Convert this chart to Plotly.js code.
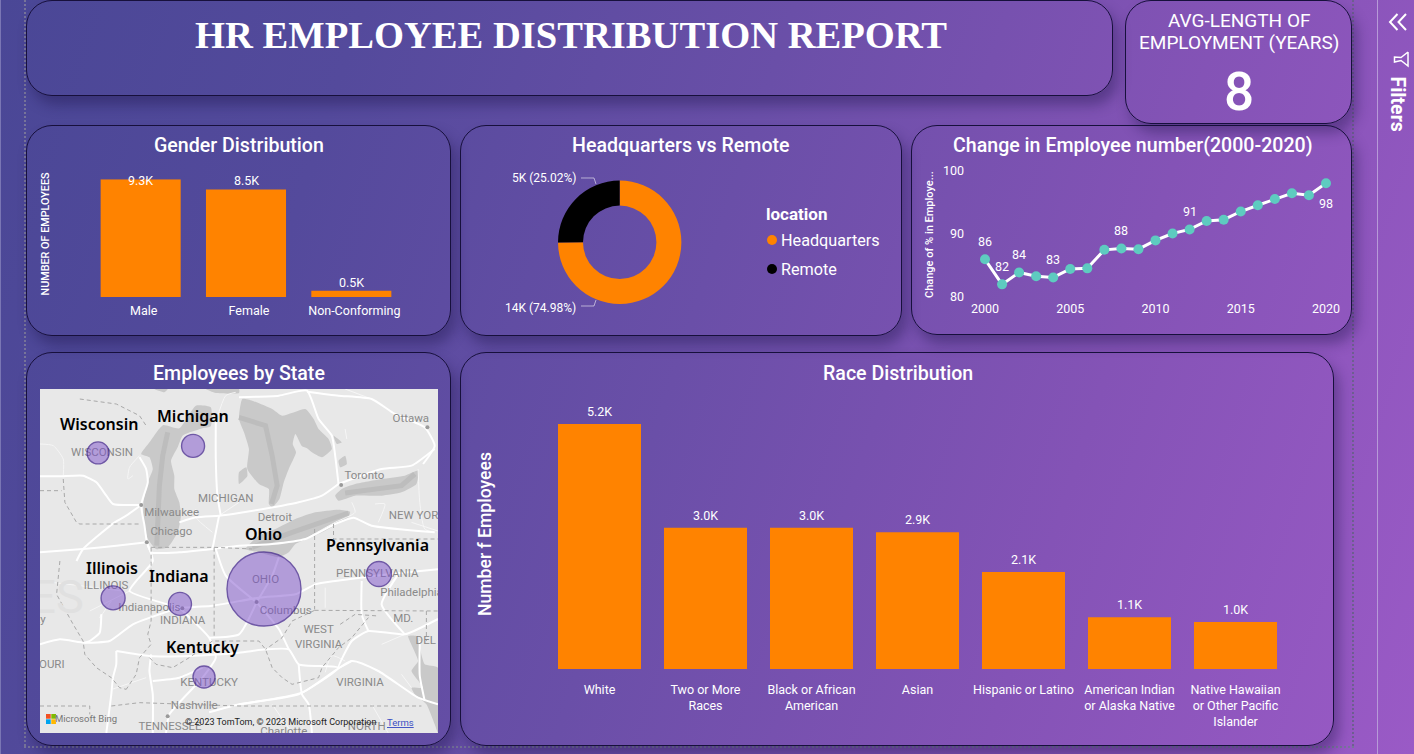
<!DOCTYPE html>
<html><head><meta charset="utf-8">
<script src="https://cdn.plot.ly/plotly-3.0.1.min.js"></script>
<style>
html,body{margin:0;padding:0;width:1414px;height:754px;overflow:hidden;
background:linear-gradient(108deg,#4a4796 0%,#544a9c 22%,#6a4fa8 48%,#8453b6 74%,#9a5ac6 100%);}
.p{position:absolute;box-sizing:border-box;border:1px solid #17103c;border-radius:26px;box-shadow:5px 9px 13px rgba(25,18,70,.38);}
.d{position:absolute;}
#chart{position:absolute;left:0;top:0;width:1414px;height:754px;}
</style></head><body>
<div class="d" style="left:0;top:0;width:1px;height:754px;background:#7a76b4"></div>
<div class="d" style="left:24px;top:0;height:746px;border-left:2px dotted #77749a"></div>
<div class="d" style="left:1352px;top:0;height:746px;border-left:2px dotted #6e5e90"></div>
<div class="d" style="left:24px;top:746px;width:1330px;border-top:2px dotted #77749a"></div>
<div class="d" style="left:1377px;top:0;width:1px;height:754px;background:#b79ad8"></div>
<div class="p" style="left:26px;top:0;width:1087px;height:96px"></div>
<div class="p" style="left:1125px;top:0;width:227px;height:124px"></div>
<div class="p" style="left:26px;top:125px;width:425px;height:211px"></div>
<div class="p" style="left:460px;top:125px;width:442px;height:211px"></div>
<div class="p" style="left:911px;top:125px;width:441px;height:210px"></div>
<div class="p" style="left:26px;top:352px;width:425px;height:394px"></div>
<div class="p" style="left:460px;top:352px;width:874px;height:394px"></div>
<div id="chart"></div>
<script>
// ---------- data ----------
const genderCats = ["Male","Female","Non-Conforming"];
const genderVals = [9300,8500,500];
const genderLabels = ["9.3K","8.5K","0.5K"];

const locationCats = ["Headquarters","Remote"];
const locationVals = [13721,4579];
const locationLabels = ["14K (74.98%)","5K (25.02%)"];

const years = [2000,2001,2002,2003,2004,2005,2006,2007,2008,2009,2010,2011,2012,2013,2014,2015,2016,2017,2018,2019,2020];
const changePct = [85.9,81.9,83.8,83.2,83.0,84.35,84.45,87.4,87.6,87.5,88.9,90.0,90.65,92.0,92.2,93.5,94.5,95.5,96.4,96.1,98.0];
const labelledYears = [2000,2001,2002,2004,2008,2012,2020];

const raceCats = ["White","Two or More<br>Races","Black or African<br>American","Asian","Hispanic or Latino","American Indian<br>or Alaska Native","Native Hawaiian<br>or Other Pacific<br>Islander"];
const raceVals = [5200,3000,3000,2900,2060,1100,1000];
const raceLabels = ["5.2K","3.0K","3.0K","2.9K","2.1K","1.1K","1.0K"];

const states = ["Wisconsin","Michigan","Ohio","Pennsylvania","Illinois","Indiana","Kentucky"];
const stateLon = [-89.72,-85.73,-82.75,-77.92,-89.09,-86.28,-85.27];
const stateLat = [44.69,44.91,40.41,40.88,40.13,39.94,37.64];
const stateEmployees = [1237,1352,14000,1598,1473,1352,1237];

// ---------- backdrop of the map ----------
const lakes = [
 [[305,195],[330,160],[355,125],[372,108],[420,118],[470,50],[515,55],[515,112],[490,118],[430,140],[415,175],[395,215],[405,260],[405,300],[420,340],[425,380],[415,430],[385,475],[350,480],[325,450],[312,400],[312,340],[325,280],[340,240],[330,205]],
 [[610,30],[640,35],[700,60],[730,80],[800,60],[825,90],[840,120],[870,150],[880,180],[850,205],[820,190],[805,178],[790,172],[770,135],[762,165],[772,190],[750,240],[735,280],[722,330],[700,355],[690,345],[690,300],[660,285],[625,240],[630,180],[615,130],[600,90]],
 [[600,250],[622,235],[625,262],[600,285]],
 [[620,480],[660,440],[710,420],[770,390],[830,370],[900,362],[935,368],[930,385],[870,420],[830,440],[770,465],[750,490],[720,505],[660,490]],
 [[890,320],[910,300],[950,285],[1030,270],[1100,260],[1140,245],[1135,285],[1090,310],[1030,320],[950,320],[900,335]],
 [[900,215],[920,200],[925,225],[905,235]],
 [[885,140],[910,160],[895,165]],
 [[1110,741],[1135,741],[1145,776],[1160,826],[1200,836],[1200,1032],[1190,1006],[1165,946],[1130,916],[1120,896],[1155,896],[1120,846],[1140,816]],
 [[500,0],[600,0],[600,12],[530,12]],
 [[345,0],[385,0],[375,10]]
];
const lakeBands = [
 [[385,130],[370,200],[360,290],[352,470]],
 [[600,85],[680,110],[700,200],[715,290],[698,345]],
 [[640,475],[760,430],[930,372]],
 [[920,312],[1090,290],[1130,255]]
];
const majorRoads = [
 [[0,262],[60,262],[130,260],[170,280],[200,320],[220,345],[305,348]],
 [[300,205],[320,240],[325,280],[305,348],[315,410],[322,460]],
 [[305,348],[260,380],[225,400],[130,480],[110,516]],
 [[0,490],[130,480],[230,470],[322,460]],
 [[322,460],[335,490],[420,490],[520,480],[600,470],[700,465],[800,450],[890,405],[945,386],[1000,410],[1190,430]],
 [[420,400],[470,385],[540,380],[600,372],[730,350],[780,340],[850,320],[900,285]],
 [[540,380],[520,480]],[[530,100],[530,210],[535,320],[545,380]],
 [[900,285],[890,200],[880,140],[840,90],[805,5],[720,20],[600,25]],
 [[805,8],[900,20],[1000,30],[1070,75],[1160,115],[1190,170],[1155,225]],
 [[900,285],[1030,240],[1120,230],[1190,180]],
 [[322,460],[340,516],[290,576],[270,606],[420,656]],
 [[0,766],[60,751],[135,761],[210,756],[280,706],[420,656]],
 [[185,676],[180,731],[150,756],[135,761]],
 [[420,656],[510,746],[530,806],[490,866],[390,976],[380,1032]],
 [[420,656],[520,650],[660,626],[770,616],[830,586],[890,576],[1050,556],[1200,541]],
 [[653,640],[600,736],[510,746]],
 [[653,640],[700,560],[720,505]],
 [[530,480],[560,560],[653,640]],
 [[230,786],[330,801],[450,801],[600,791],[680,781],[750,781],[780,826],[900,836],[780,916],[600,946],[510,970]],
 [[653,640],[720,720],[750,781]],
 [[230,786],[230,826],[220,866],[215,916],[200,1032]],
 [[335,796],[330,846],[340,916],[340,1032]],
 [[340,876],[420,866],[490,836]],
 [[780,826],[790,916],[810,946],[820,1032]],
 [[940,816],[900,836],[940,756],[990,726],[1100,736],[1200,690]],
 [[990,726],[970,676],[970,576]],
 [[600,946],[790,911],[940,816],[1020,846],[1140,926],[1200,946]],
 [[1080,556],[1030,646],[1100,736]],
 [[1145,756],[1145,860],[1160,936]]
];
const minorRoads = [
 [[0,165],[40,170],[70,210],[70,260]],
 [[300,200],[270,235],[265,270],[280,260]],
 [[0,576],[120,590],[250,606]],
 [[215,636],[180,686],[185,676]],
 [[470,360],[470,385],[520,430]],[[540,380],[600,340]],
 [[530,100],[560,20],[590,10]],
 [[1140,240],[1145,340],[1160,420],[1190,430]],
 [[1010,345],[1040,345],[1020,400]],
 [[940,340],[950,370],[890,400],[800,450]],
 [[150,666],[270,606]],
 [[600,636],[660,626]],[[860,596],[860,656]],
 [[1080,556],[1040,600]],
 [[920,816],[880,800],[860,850]],
 [[1030,766],[1100,736]],
 [[1120,896],[1090,856]],
 [[1000,946],[1050,1032]],[[700,946],[760,1032]],
 [[320,866],[220,900]],
 [[920,0],[1000,30]],[[920,120],[925,150]],
 [[1200,426],[1120,400]]
];
const borders = [
 [[0,305],[65,305]],
 [[70,270],[75,340],[110,400],[120,405],[300,405]],
 [[120,30],[230,45],[300,80],[320,110]],
 [[335,475],[525,475],[640,480]],
 [[828,420],[828,661]],
 [[885,405],[885,450],[1200,450]],
 [[335,476],[335,696],[325,736],[335,766],[300,806],[290,856],[260,901]],
 [[60,516],[50,616],[100,706],[130,756],[135,796],[170,836],[215,866],[240,896],[260,901]],
 [[0,951],[150,951],[150,976]],
 [[215,951],[300,941],[600,951],[1150,951]],
 [[525,476],[525,746]],
 [[330,806],[350,826],[400,836],[450,806],[520,756],[600,756],[660,756],[680,781],[700,836],[730,866],[760,886],[840,866],[850,836],[900,776],[940,746],[990,686]],
 [[828,664],[1200,666]],
 [[828,664],[760,696],[730,746],[680,781]],
 [[905,706],[950,676],[1020,681]],
 [[1165,666],[1165,756]]
];
const placeNames = ["Ottawa","Toronto","MICHIGAN","Milwaukee","Detroit","Chicago","NEW YORK","WISCONSIN","ILLINOIS","OHIO","Columbus","PENNSYLVANIA","Philadelphia","Indianapolis","INDIANA","MD.","WEST<br>VIRGINIA","DEL","KENTUCKY","VIRGINIA","MISSOURI","City","Nashville","TENNESSEE","NORTH","Charlotte"];
const placeU = [1118,978,560,397,708,396,1137,187,199,680,741,1017,1120,330,430,1095,840,1163,510,965,-5,-12,465,392,985,735];
const placeV = [90,262,330,373,386,430,380,192,591,573,666,554,611,657,696,691,745,757,883,883,827,692,951,1013,1013,1028];
const cityU = [1168,908,305,322,653,429,385];
const cityV = [115,288,348,460,639,658,982];
const stateTags = ["Wisconsin","Michigan","Ohio","Pennsylvania","Illinois","Indiana","Kentucky"];
const tagU = [178,460,675,1018,218,420,490];
const tagV = [105,82,435,467,538,560,774];

// ---------- helpers ----------
const W=1414,H=754,F="Roboto, sans-serif",ink="#ffffff";
const X=p=>p/W, Y=p=>1-p/H;
const txt=(t,x,y,o={})=>Object.assign({text:t,x:X(x),y:Y(y),xref:"paper",yref:"paper",showarrow:false,xanchor:"center",yanchor:"middle",
  font:{family:F,size:o.size||13,color:o.color||ink,weight:o.weight||400}},o.extra||{});
const flat=(a,i)=>a.flatMap(l=>l.map(c=>c[i]).concat([null]));
const closed=a=>a.map(l=>l.concat([l[0]]));
const hidden=(d,a,r,extra)=>Object.assign({domain:d,anchor:a,range:r,visible:false,fixedrange:true},extra||{});

const ann=[];
ann.push(txt("HR EMPLOYEE DISTRIBUTION REPORT",570.5,35,{extra:{font:{family:"Liberation Serif, serif",size:38.6,color:ink,weight:700}}}));
ann.push(txt("AVG-LENGTH OF",1239,20,{size:19}));
ann.push(txt("EMPLOYMENT (YEARS)",1239,43,{size:19}));
ann.push(txt("8",1239,92,{size:53,weight:500}));
[["Gender Distribution",239,145],["Headquarters vs Remote",681,145],["Change in Employee number(2000-2020)",1133,145],["Employees by State",239,373],["Race Distribution",898,373]]
 .forEach(t=>ann.push(txt(t[0],t[1],t[2],{size:19.6,weight:500})));
ann.push(txt("NUMBER OF EMPLOYEES",45.5,234,{size:10.8,weight:500,extra:{textangle:-90}}));
ann.push(txt("Change of % in Employe...",930,234,{size:11,weight:500,extra:{textangle:-90}}));
ann.push(txt("Number f Employees",485,534,{size:17.6,weight:500,extra:{textangle:-90}}));
genderVals.forEach((v,i)=>ann.push({x:genderCats[i],y:v,xref:"x",yref:"y",text:genderLabels[i],showarrow:false,yanchor:"bottom",yshift:i===0?-11:-1,font:{family:F,size:12.5,color:ink}}));
raceVals.forEach((v,i)=>ann.push({x:raceCats[i],y:v,xref:"x3",yref:"y3",text:raceLabels[i],showarrow:false,yanchor:"bottom",yshift:3,font:{family:F,size:12.5,color:ink}}));
labelledYears.forEach(yr=>{const v=changePct[years.indexOf(yr)];
  ann.push({x:yr,y:v,xref:"x2",yref:"y2",text:String(Math.round(v)),showarrow:false,yshift:yr===2020?-20:18,font:{family:F,size:12.5,color:ink}});});
ann.push(txt(locationLabels[0],578,307.5,{size:12,extra:{xanchor:"right"}}));
ann.push(txt(locationLabels[1],578,178,{size:12,extra:{xanchor:"right"}}));
ann.push(txt("location",764,214,{size:17,weight:700,extra:{xanchor:"left"}}));
ann.push(txt(locationCats[0],778.5,240,{size:16.2,extra:{xanchor:"left"}}));
ann.push(txt(locationCats[1],778.5,269,{size:16.2,extra:{xanchor:"left"}}));
stateTags.forEach((t,i)=>ann.push({text:t,x:tagU[i],y:tagV[i],xref:"x4",yref:"y4",showarrow:false,font:{family:"Noto Sans, sans-serif",size:16,color:"#000000",weight:600}}));
ann.push(txt("Microsoft Bing",86,718.5,{size:9.5,color:"#777777"}));
ann.push(txt("© 2023 TomTom, © 2023 Microsoft Corporation",183,722,{size:9,color:"#222222",extra:{xanchor:"left"}}));
ann.push(txt("<u>Terms</u>",400,722,{size:9.5,color:"#3b50c4"}));
ann.push(txt("Filters",1397,103.5,{size:19.5,weight:700,extra:{textangle:90}}));

const line=(d,c,w)=>({type:"path",path:d,xref:"paper",yref:"paper",line:{color:c,width:w},layer:"above"});
const pts=a=>a.map((c,i)=>(i?"L":"M")+X(c[0]).toFixed(5)+","+Y(c[1]).toFixed(5)).join(" ");
const dot=(cx,cy,r,c)=>({type:"circle",xref:"paper",yref:"paper",x0:X(cx-r),x1:X(cx+r),y0:Y(cy+r),y1:Y(cy-r),fillcolor:c,line:{width:0}});
const box=(x0,y0,x1,y1,c)=>({type:"rect",xref:"paper",yref:"paper",x0:X(x0),x1:X(x1),y0:Y(y1),y1:Y(y0),fillcolor:c,line:{width:0},layer:"above"});
const shapes=[
 {type:"rect",xref:"x4",yref:"y4",x0:0,x1:1200,y0:0,y1:1032,fillcolor:"#e8e8e8",line:{width:0},layer:"below"},
 line(pts([[581,178],[594,178],[596,184]]),"rgba(255,255,255,.55)",1),
 line(pts([[581,306],[594,306],[596,300]]),"rgba(255,255,255,.55)",1),
 dot(772,240,5,"#ff8300"),dot(772,269,5,"#000000"),
 box(46,714,50.7,718.7,"#f25022"),box(51.3,714,56,718.7,"#7fba00"),box(46,719.3,50.7,724,"#00a4ef"),box(51.3,719.3,56,724,"#ffb900"),
 line(pts([[1397.5,14],[1390,22],[1397.5,30]]),"#ffffff",2),
 line(pts([[1406,14],[1398.5,22],[1406,30]]),"#ffffff",2),
 line(pts([[1408,52],[1408,66],[1401,60.5],[1394.5,62],[1394.5,57],[1401,57.5],[1408,52]]),"#ffffff",1.5)
];

const traces=[
 {type:"bar",x:genderCats,y:genderVals,xaxis:"x",yaxis:"y",width:0.76,marker:{color:"#ff8300"},hoverinfo:"skip"},
 {type:"pie",labels:locationCats,values:locationVals,sort:false,direction:"clockwise",rotation:0,hole:0.595,
  domain:{x:[X(558),X(681.4)],y:[Y(304),Y(180.6)]},marker:{colors:["#ff8300","#000000"],line:{width:0}},textinfo:"none",showlegend:false,hoverinfo:"skip"},
 {type:"scatter",mode:"lines+markers",x:years,y:changePct,xaxis:"x2",yaxis:"y2",cliponaxis:false,
  line:{color:"#ffffff",width:3},marker:{color:"#5ecbc0",size:10},hoverinfo:"skip"},
 {type:"bar",x:raceCats,y:raceVals,xaxis:"x3",yaxis:"y3",width:0.783,marker:{color:"#ff8300"},hoverinfo:"skip"},
 {type:"scatter",mode:"lines",x:flat(closed(lakes),0),y:flat(closed(lakes),1),xaxis:"x4",yaxis:"y4",fill:"toself",fillcolor:"#c9c9c9",line:{width:0,shape:"spline",smoothing:0.5},hoverinfo:"skip"},
 {type:"scatter",mode:"lines",x:flat(lakeBands,0),y:flat(lakeBands,1),xaxis:"x4",yaxis:"y4",line:{color:"#bdbdbd",width:5},hoverinfo:"skip"},
 {type:"scatter",mode:"lines",x:flat(minorRoads,0),y:flat(minorRoads,1),xaxis:"x4",yaxis:"y4",line:{color:"#f6f6f6",width:1,shape:"spline",smoothing:0.6},hoverinfo:"skip"},
 {type:"scatter",mode:"lines",x:flat(majorRoads,0),y:flat(majorRoads,1),xaxis:"x4",yaxis:"y4",line:{color:"#ffffff",width:2,shape:"spline",smoothing:0.5},hoverinfo:"skip"},
 {type:"scatter",mode:"lines",x:flat(borders,0),y:flat(borders,1),xaxis:"x4",yaxis:"y4",line:{color:"#a8a8a8",width:1,dash:"4px,3px"},hoverinfo:"skip"},
 {type:"scatter",mode:"text",x:[50],y:[636],text:["ES"],xaxis:"x4",yaxis:"y4",textfont:{family:F,size:47,color:"#e0e0e0"},hoverinfo:"skip"},
 {type:"scatter",mode:"markers",x:cityU,y:cityV,xaxis:"x4",yaxis:"y4",marker:{size:4,color:"#9a9a9a"},hoverinfo:"skip"},
 {type:"scatter",mode:"text",x:placeU,y:placeV,text:placeNames,xaxis:"x4",yaxis:"y4",textfont:{family:F,size:11.5,color:"#8a8a8a"},hoverinfo:"skip"},
 {type:"scatter",mode:"markers",x:stateLon,y:stateLat,text:states,xaxis:"x5",yaxis:"y5",
  marker:{size:stateEmployees,sizemode:"area",sizeref:2*Math.max(...stateEmployees)/(74*74),color:"rgba(124,78,204,.7)",line:{color:"#3c1c8a",width:1.4}},hoverinfo:"text"}
];
const tf={family:F,size:12.5,color:ink};
const layout={
 width:W,height:H,autosize:false,margin:{l:0,r:0,t:0,b:0,pad:0},paper_bgcolor:"rgba(0,0,0,0)",plot_bgcolor:"rgba(0,0,0,0)",
 showlegend:false,font:{family:F,color:ink},annotations:ann,shapes:shapes,
 xaxis:{domain:[X(88),X(404)],anchor:"y",type:"category",showgrid:false,zeroline:false,showline:false,ticks:"",tickfont:tf,ticklabelstandoff:4,ticklabelshift:3,fixedrange:true},
 yaxis:hidden([Y(297),Y(179.3)],"x",[0,9300]),
 xaxis2:{domain:[X(985),X(1326)],anchor:"y2",range:[2000,2020],tickvals:[2000,2005,2010,2015,2020],showgrid:false,zeroline:false,showline:false,ticks:"",tickfont:tf,ticklabelstandoff:3,fixedrange:true},
 yaxis2:{domain:[Y(296.3),Y(170.7)],anchor:"x2",range:[80,100],tickvals:[80,90,100],showgrid:false,zeroline:false,showline:false,ticks:"",tickfont:tf,ticklabelstandoff:20,fixedrange:true},
 xaxis3:{domain:[X(546.5),X(1288.5)],anchor:"y3",type:"category",showgrid:false,zeroline:false,showline:false,ticks:"",tickfont:tf,ticklabelstandoff:11,fixedrange:true},
 yaxis3:hidden([Y(669),Y(424)],"x3",[0,5200]),
 xaxis4:hidden([X(40),X(438)],"y4",[0,1200]),
 yaxis4:hidden([Y(733),Y(389)],"x4",[1032,0]),
 xaxis5:hidden([X(40),X(438)],"y5",[-92.16,-75.44]),
 yaxis5:hidden([Y(733),Y(389)],"x5",[35.88,46.70])
};
Plotly.newPlot("chart",traces,layout,{displayModeBar:false,staticPlot:true});
</script>
</body></html>
